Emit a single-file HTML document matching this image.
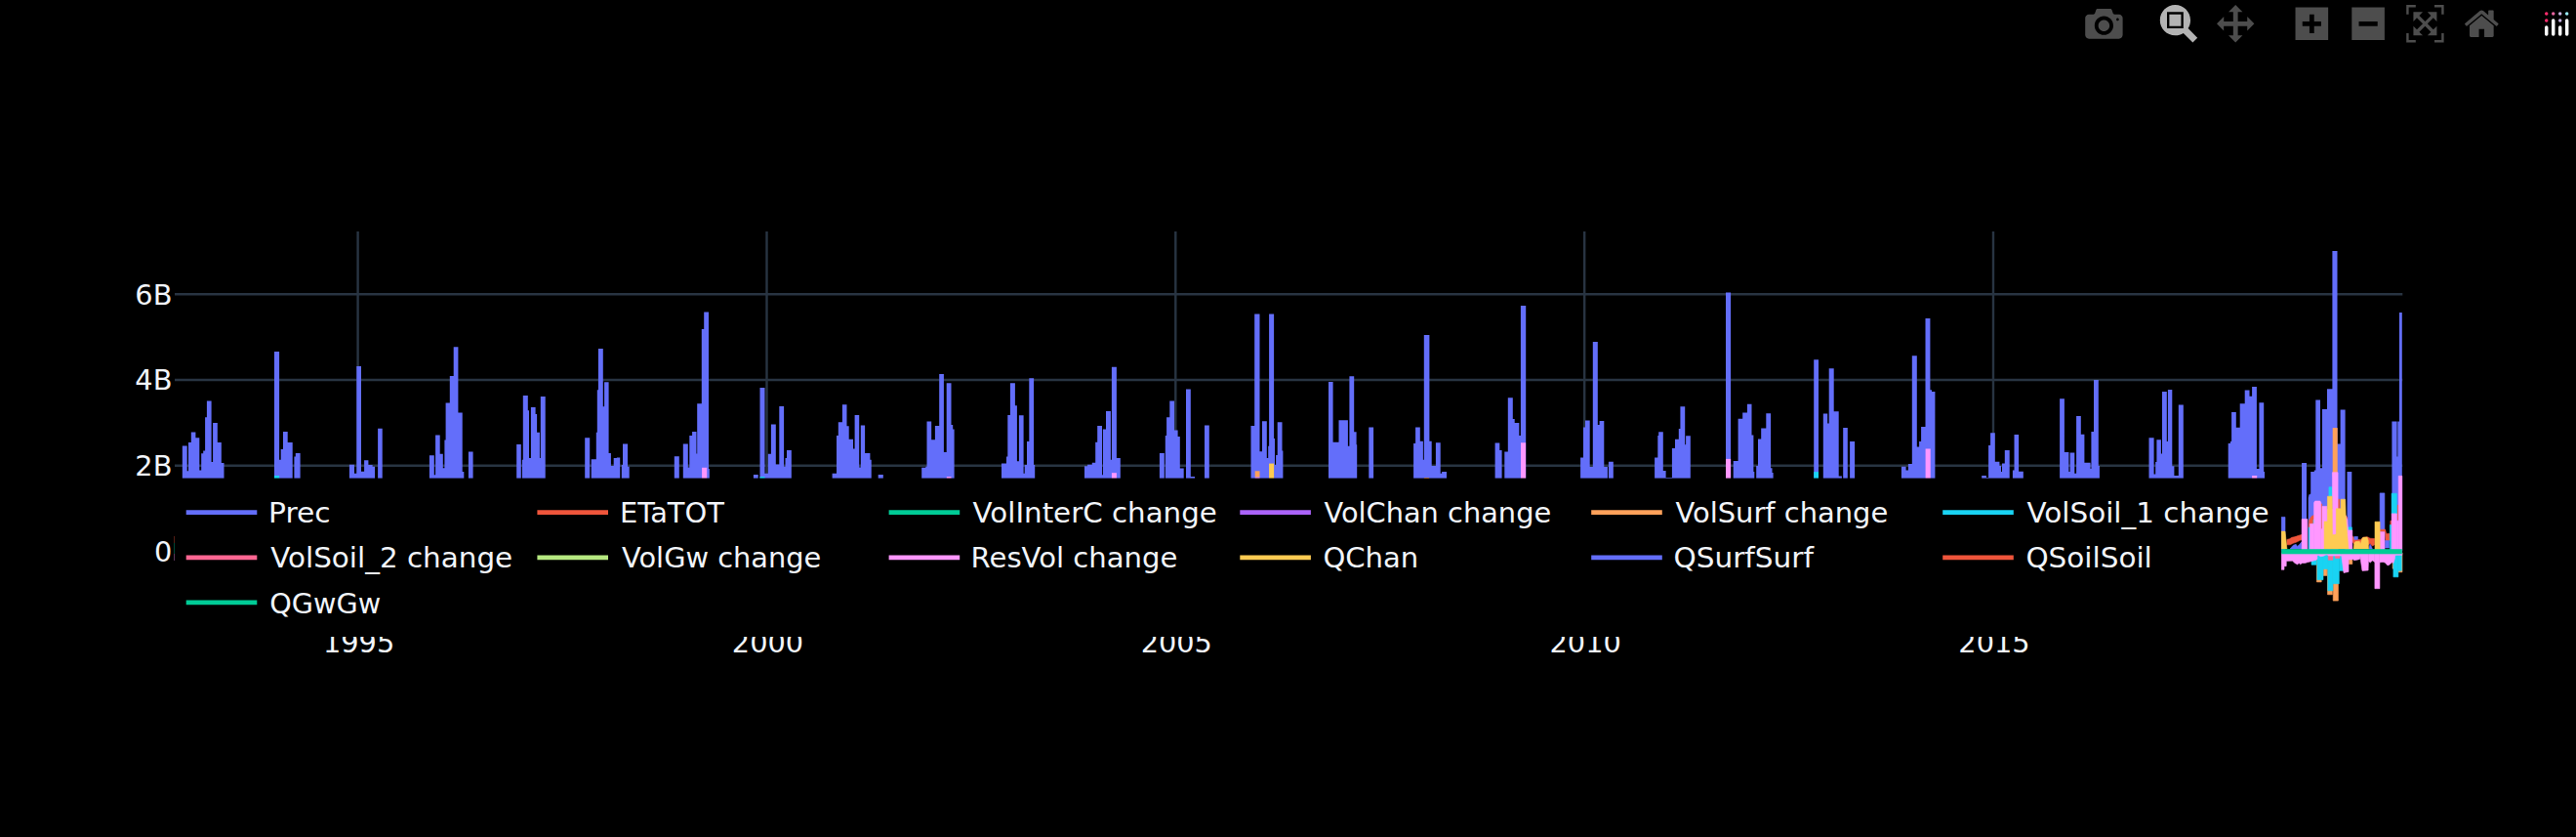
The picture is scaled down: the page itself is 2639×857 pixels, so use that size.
<!DOCTYPE html>
<html><head><meta charset="utf-8"><title>plot</title>
<style>
html,body{margin:0;padding:0;background:#000;}
body{width:2639px;height:857px;overflow:hidden;}
svg{display:block;position:absolute;left:0;top:0;}
text{font-family:"DejaVu Sans", "Liberation Sans", sans-serif;font-size:28.8px;fill:#f2f5fa;}
</style></head><body>
<svg width="2639" height="857" viewBox="0 0 2639 857">
<rect width="2639" height="857" fill="#000"/>

<g stroke="#283442" stroke-width="2.4" fill="none">
<line x1="366.6" y1="237" x2="366.6" y2="652"/>
<line x1="785.5" y1="237" x2="785.5" y2="652"/>
<line x1="1204.3" y1="237" x2="1204.3" y2="652"/>
<line x1="1623.2" y1="237" x2="1623.2" y2="652"/>
<line x1="2042.0" y1="237" x2="2042.0" y2="652"/>
<line x1="179" y1="476.8" x2="2461.3" y2="476.8"/>
<line x1="179" y1="389.0" x2="2461.3" y2="389.0"/>
<line x1="179" y1="301.2" x2="2461.3" y2="301.2"/>
</g>
<g>
<path fill="#636efa" d="M186.8 491.0 L186.8 456.4 L191.7 456.4 L191.7 482.3 L193.0 482.3 L193.0 453.1 L195.8 453.1 L195.8 442.4 L200.4 442.4 L200.4 448.2 L204.3 448.2 L204.3 481.6 L206.2 481.6 L206.2 464.2 L208.2 464.2 L208.2 461.4 L210.1 461.4 L210.1 427.2 L211.9 427.2 L211.9 410.6 L216.6 410.6 L216.6 473.0 L218.1 473.0 L218.1 433.1 L222.8 433.1 L222.8 453.1 L226.8 453.1 L226.8 474.1 L229.5 474.1 L229.5 491.0Z M281.0 491.0 L281.0 359.9 L286.1 359.9 L286.1 470.7 L287.7 470.7 L287.7 460.1 L290.0 460.1 L290.0 442.0 L294.7 442.0 L294.7 453.1 L299.7 453.1 L299.7 491.0Z M301.4 491.0 L301.4 467.6 L302.8 467.6 L302.8 464.0 L307.6 464.0 L307.6 491.0Z M357.9 491.0 L357.9 475.7 L363.0 475.7 L363.0 484.7 L365.3 484.7 L365.3 374.9 L370.0 374.9 L370.0 482.8 L373.1 482.8 L373.1 471.2 L377.4 471.2 L377.4 476.1 L381.6 476.1 L381.6 477.7 L384.0 477.7 L384.0 491.0Z M387.1 491.0 L387.1 438.7 L391.7 438.7 L391.7 491.0Z M439.9 491.0 L439.9 466.3 L444.8 466.3 L444.8 486.2 L446.1 486.2 L446.1 445.5 L450.7 445.5 L450.7 464.8 L453.8 464.8 L453.8 479.2 L455.4 479.2 L455.4 450.5 L456.6 450.5 L456.6 412.5 L457.0 412.5 L457.0 412.5 L460.8 412.5 L460.8 385.0 L464.7 385.0 L464.7 355.2 L469.4 355.2 L469.4 422.6 L473.7 422.6 L473.7 483.1 L475.3 483.1 L475.3 491.0Z M479.9 491.0 L479.9 462.5 L484.6 462.5 L484.6 491.0Z M529.2 491.0 L529.2 454.9 L533.8 454.9 L533.8 491.0Z M534.9 491.0 L534.9 470.7 L535.8 470.7 L535.8 405.0 L540.8 405.0 L540.8 420.2 L542.0 420.2 L542.0 469.1 L543.9 469.1 L543.9 417.1 L548.6 417.1 L548.6 424.1 L549.8 424.1 L549.8 424.1 L550.1 424.1 L550.1 442.7 L552.9 442.7 L552.9 469.1 L553.8 469.1 L553.8 405.9 L558.7 405.9 L558.7 491.0Z M599.2 491.0 L599.2 448.2 L604.2 448.2 L604.2 491.0Z M605.7 491.0 L605.7 470.2 L610.8 470.2 L610.8 442.7 L611.8 442.7 L611.8 399.3 L612.9 399.3 L612.9 357.1 L617.8 357.1 L617.8 416.3 L619.1 416.3 L619.1 391.2 L623.6 391.2 L623.6 464.0 L625.9 464.0 L625.9 476.9 L628.7 476.9 L628.7 469.1 L631.8 469.1 L631.8 468.4 L635.2 468.4 L635.2 491.0Z M636.8 491.0 L636.8 476.1 L638.0 476.1 L638.0 454.4 L643.0 454.4 L643.0 477.7 L644.7 477.7 L644.7 491.0Z M690.8 491.0 L690.8 467.3 L695.8 467.3 L695.8 491.0Z M699.8 491.0 L699.8 454.4 L704.8 454.4 L704.8 478.5 L706.3 478.5 L706.3 445.9 L709.1 445.9 L709.1 442.0 L713.5 442.0 L713.5 464.5 L714.2 464.5 L714.2 413.2 L718.8 413.2 L718.8 336.9 L721.2 336.9 L721.2 319.5 L726.0 319.5 L726.0 480.0 L726.8 480.0 L726.8 491.0Z M771.9 491.0 L771.9 485.9 L776.7 485.9 L776.7 491.0Z M778.5 491.0 L778.5 396.9 L783.5 396.9 L783.5 484.7 L786.8 484.7 L786.8 464.8 L789.9 464.8 L789.9 434.5 L794.8 434.5 L794.8 475.4 L798.3 475.4 L798.3 416.0 L803.1 416.0 L803.1 477.7 L804.5 477.7 L804.5 469.1 L806.0 469.1 L806.0 460.9 L810.8 460.9 L810.8 491.0Z M852.6 491.0 L852.6 484.7 L857.0 484.7 L857.0 445.9 L858.8 445.9 L858.8 432.3 L862.9 432.3 L862.9 414.3 L867.5 414.3 L867.5 436.2 L869.7 436.2 L869.7 449.7 L874.0 449.7 L874.0 459.5 L875.6 459.5 L875.6 424.9 L880.2 424.9 L880.2 478.5 L881.8 478.5 L881.8 435.6 L886.1 435.6 L886.1 464.0 L891.4 464.0 L891.4 470.7 L892.7 470.7 L892.7 491.0Z M899.7 491.0 L899.7 485.9 L904.8 485.9 L904.8 491.0Z M944.2 491.0 L944.2 478.8 L948.3 478.8 L948.3 477.7 L949.5 477.7 L949.5 431.4 L954.2 431.4 L954.2 450.2 L957.9 450.2 L957.9 436.1 L962.2 436.1 L962.2 383.0 L966.9 383.0 L966.9 462.9 L969.7 462.9 L969.7 392.3 L974.5 392.3 L974.5 435.1 L976.2 435.1 L976.2 439.6 L977.6 439.6 L977.6 491.0Z M1026.0 491.0 L1026.0 474.6 L1031.0 474.6 L1031.0 467.6 L1032.3 467.6 L1032.3 424.9 L1034.9 424.9 L1034.9 392.3 L1039.9 392.3 L1039.9 415.3 L1041.9 415.3 L1041.9 472.2 L1043.9 472.2 L1043.9 425.2 L1048.6 425.2 L1048.6 484.7 L1049.7 484.7 L1049.7 476.1 L1052.0 476.1 L1052.0 452.1 L1054.3 452.1 L1054.3 387.2 L1059.1 387.2 L1059.1 476.1 L1060.2 476.1 L1060.2 491.0Z M1111.0 491.0 L1111.0 477.2 L1114.1 477.2 L1114.1 475.7 L1118.8 475.7 L1118.8 473.8 L1122.2 473.8 L1122.2 452.8 L1124.2 452.8 L1124.2 435.9 L1129.0 435.9 L1129.0 486.2 L1129.9 486.2 L1129.9 439.6 L1133.0 439.6 L1133.0 421.0 L1137.9 421.0 L1137.9 470.7 L1138.9 470.7 L1138.9 375.7 L1143.9 375.7 L1143.9 469.1 L1147.8 469.1 L1147.8 491.0Z M1187.9 491.0 L1187.9 464.0 L1192.8 464.0 L1192.8 491.0Z M1193.8 491.0 L1193.8 445.9 L1195.1 445.9 L1195.1 427.2 L1198.3 427.2 L1198.3 410.4 L1203.1 410.4 L1203.1 440.4 L1206.6 440.4 L1206.6 447.1 L1208.8 447.1 L1208.8 479.5 L1212.7 479.5 L1212.7 491.0Z M1215.0 491.0 L1215.0 398.5 L1219.8 398.5 L1219.8 488.1 L1224.0 488.1 L1224.0 491.0Z M1234.0 491.0 L1234.0 435.4 L1238.8 435.4 L1238.8 491.0Z M1281.5 491.0 L1281.5 436.1 L1285.2 436.1 L1285.2 321.4 L1290.5 321.4 L1290.5 462.2 L1293.0 462.2 L1293.0 431.3 L1297.8 431.3 L1297.8 469.1 L1299.2 469.1 L1299.2 456.7 L1300.1 456.7 L1300.1 321.4 L1305.1 321.4 L1305.1 449.0 L1306.0 449.0 L1306.0 476.1 L1307.1 476.1 L1307.1 466.0 L1308.7 466.0 L1308.7 432.2 L1313.5 432.2 L1313.5 461.4 L1314.4 461.4 L1314.4 491.0Z M1361.0 491.0 L1361.0 391.0 L1365.6 391.0 L1365.6 452.8 L1371.5 452.8 L1371.5 430.3 L1379.0 430.3 L1379.0 430.3 L1379.3 430.3 L1379.3 430.3 L1380.9 430.3 L1380.9 456.7 L1382.4 456.7 L1382.4 385.3 L1387.2 385.3 L1387.2 442.3 L1389.6 442.3 L1389.6 455.2 L1390.2 455.2 L1390.2 491.0Z M1402.3 491.0 L1402.3 437.6 L1407.1 437.6 L1407.1 491.0Z M1448.1 491.0 L1448.1 453.9 L1450.1 453.9 L1450.1 437.5 L1454.8 437.5 L1454.8 451.8 L1457.9 451.8 L1457.9 470.7 L1458.8 470.7 L1458.8 343.1 L1464.4 343.1 L1464.4 451.8 L1466.7 451.8 L1466.7 476.9 L1470.9 476.9 L1470.9 453.3 L1475.7 453.3 L1475.7 484.7 L1477.1 484.7 L1477.1 483.1 L1482.0 483.1 L1482.0 491.0Z M1531.6 491.0 L1531.6 453.6 L1536.3 453.6 L1536.3 460.9 L1538.6 460.9 L1538.6 491.0Z M1541.3 491.0 L1541.3 462.6 L1544.8 462.6 L1544.8 407.2 L1549.8 407.2 L1549.8 429.1 L1551.7 429.1 L1551.7 433.1 L1556.3 433.1 L1556.3 445.9 L1557.9 445.9 L1557.9 313.0 L1563.2 313.0 L1563.2 491.0Z M1619.1 491.0 L1619.1 468.4 L1622.0 468.4 L1622.0 437.6 L1624.0 437.6 L1624.0 430.5 L1628.7 430.5 L1628.7 478.1 L1631.8 478.1 L1631.8 349.9 L1636.8 349.9 L1636.8 435.0 L1638.6 435.0 L1638.6 431.1 L1643.3 431.1 L1643.3 478.1 L1646.9 478.1 L1646.9 491.0Z M1647.9 491.0 L1647.9 472.7 L1652.8 472.7 L1652.8 491.0Z M1695.1 491.0 L1695.1 468.4 L1698.3 468.4 L1698.3 445.9 L1699.2 445.9 L1699.2 442.3 L1703.8 442.3 L1703.8 481.9 L1706.6 481.9 L1706.6 489.0 L1712.9 489.0 L1712.9 459.0 L1716.0 459.0 L1716.0 449.7 L1719.8 449.7 L1719.8 438.9 L1721.4 438.9 L1721.4 416.3 L1726.2 416.3 L1726.2 455.2 L1727.1 455.2 L1727.1 446.2 L1731.8 446.2 L1731.8 491.0Z M1768.0 491.0 L1768.0 299.6 L1773.1 299.6 L1773.1 491.0Z M1775.7 491.0 L1775.7 471.9 L1779.0 471.9 L1779.0 471.9 L1779.3 471.9 L1779.3 471.9 L1780.6 471.9 L1780.6 428.8 L1785.2 428.8 L1785.2 422.6 L1789.9 422.6 L1789.9 413.7 L1794.5 413.7 L1794.5 445.4 L1796.4 445.4 L1796.4 483.1 L1797.3 483.1 L1797.3 491.0Z M1799.2 491.0 L1799.2 476.9 L1801.0 476.9 L1801.0 449.4 L1804.2 449.4 L1804.2 438.4 L1809.3 438.4 L1809.3 423.3 L1814.1 423.3 L1814.1 479.2 L1815.5 479.2 L1815.5 483.9 L1816.6 483.9 L1816.6 491.0Z M1858.2 491.0 L1858.2 368.2 L1863.0 368.2 L1863.0 491.0Z M1867.8 491.0 L1867.8 423.6 L1872.2 423.6 L1872.2 433.4 L1873.7 433.4 L1873.7 377.2 L1878.7 377.2 L1878.7 421.2 L1883.7 421.2 L1883.7 487.5 L1886.9 487.5 L1886.9 491.0Z M1888.2 491.0 L1888.2 437.9 L1892.8 437.9 L1892.8 491.0Z M1895.1 491.0 L1895.1 452.1 L1900.1 452.1 L1900.1 491.0Z M1947.9 491.0 L1947.9 477.7 L1952.6 477.7 L1952.6 481.6 L1954.9 481.6 L1954.9 475.0 L1958.8 475.0 L1958.8 364.2 L1963.8 364.2 L1963.8 457.5 L1966.1 457.5 L1966.1 452.1 L1968.1 452.1 L1968.1 437.0 L1972.5 437.0 L1972.5 326.0 L1977.4 326.0 L1977.4 399.3 L1979.0 399.3 L1979.0 401.1 L1982.4 401.1 L1982.4 491.0Z M2030.2 491.0 L2030.2 487.0 L2034.9 487.0 L2034.9 489.0 L2037.1 489.0 L2037.1 455.9 L2039.1 455.9 L2039.1 443.2 L2043.8 443.2 L2043.8 472.7 L2048.4 472.7 L2048.4 476.9 L2050.0 476.9 L2050.0 483.1 L2051.0 483.1 L2051.0 474.6 L2053.8 474.6 L2053.8 460.9 L2058.7 460.9 L2058.7 491.0Z M2061.9 491.0 L2061.9 481.6 L2063.5 481.6 L2063.5 445.1 L2068.1 445.1 L2068.1 482.8 L2072.8 482.8 L2072.8 491.0Z M2110.1 491.0 L2110.1 408.3 L2114.9 408.3 L2114.9 462.9 L2119.4 462.9 L2119.4 483.1 L2120.6 483.1 L2120.6 463.4 L2125.3 463.4 L2125.3 484.7 L2127.1 484.7 L2127.1 426.0 L2131.8 426.0 L2131.8 444.8 L2135.4 444.8 L2135.4 473.8 L2141.6 473.8 L2141.6 480.0 L2142.4 480.0 L2142.4 442.0 L2145.0 442.0 L2145.0 388.9 L2149.8 388.9 L2149.8 476.9 L2150.9 476.9 L2150.9 491.0Z M2201.5 491.0 L2201.5 448.2 L2206.6 448.2 L2206.6 485.4 L2208.2 485.4 L2208.2 473.0 L2209.4 473.0 L2209.4 450.2 L2213.9 450.2 L2213.9 464.5 L2215.0 464.5 L2215.0 401.1 L2219.8 401.1 L2219.8 452.1 L2220.9 452.1 L2220.9 399.0 L2225.3 399.0 L2225.3 477.2 L2227.4 477.2 L2227.4 487.0 L2231.8 487.0 L2231.8 414.5 L2236.8 414.5 L2236.8 491.0Z M2282.7 491.0 L2282.7 453.9 L2284.9 453.9 L2284.9 452.1 L2286.1 452.1 L2286.1 421.9 L2290.8 421.9 L2290.8 437.8 L2294.7 437.8 L2294.7 413.2 L2299.7 413.2 L2299.7 399.4 L2304.5 399.4 L2304.5 405.8 L2307.1 405.8 L2307.1 395.9 L2311.9 395.9 L2311.9 480.0 L2314.4 480.0 L2314.4 412.3 L2319.2 412.3 L2319.2 483.1 L2320.0 483.1 L2320.0 491.0Z M2358.0 564.6 L2358.0 474.1 L2363.0 474.1 L2363.0 564.6Z M2367.2 564.6 L2367.2 483.1 L2370.8 483.1 L2370.8 481.6 L2372.3 481.6 L2372.3 409.4 L2377.0 409.4 L2377.0 479.2 L2379.0 479.2 L2379.0 419.1 L2384.0 419.1 L2384.0 398.3 L2389.4 398.3 L2389.4 257.1 L2394.5 257.1 L2394.5 454.4 L2397.6 454.4 L2397.6 419.5 L2402.6 419.5 L2402.6 564.6Z M2404.5 564.6 L2404.5 483.1 L2409.3 483.1 L2409.3 564.6Z M2450.4 564.6 L2450.4 431.4 L2455.6 431.4 L2455.6 467.4 L2456.3 467.4 L2456.3 431.4 L2458.0 431.4 L2458.0 320.1 L2460.8 320.1 L2460.8 564.6Z"/>
<rect x="281.0" y="487.0" width="5.1" height="3.9" fill="#19d3f3"/>
<rect x="719.1" y="478.8" width="5.1" height="12.1" fill="#FF97FF"/>
<rect x="778.5" y="488.1" width="5.0" height="2.8" fill="#19d3f3"/>
<rect x="969.8" y="488.1" width="4.7" height="2.8" fill="#FF97FF"/>
<rect x="1138.9" y="484.2" width="5.0" height="6.7" fill="#FF97FF"/>
<rect x="1285.7" y="482.3" width="4.8" height="6.2" fill="#FFA15A"/>
<rect x="1285.7" y="488.6" width="4.8" height="2.3" fill="#FF97FF"/>
<rect x="1300.1" y="474.6" width="5.0" height="16.3" fill="#FECB52"/>
<rect x="1459.0" y="489.0" width="5.1" height="1.9" fill="#FFA15A"/>
<rect x="1558.0" y="453.3" width="5.1" height="37.6" fill="#FF97FF"/>
<rect x="1768.0" y="469.9" width="5.1" height="21.0" fill="#FF97FF"/>
<rect x="1858.2" y="483.1" width="4.8" height="7.8" fill="#19d3f3"/>
<rect x="1972.6" y="459.5" width="5.1" height="31.4" fill="#FF97FF"/>
<rect x="2307.1" y="487.0" width="5.1" height="3.9" fill="#FF97FF"/>
<polygon points="2337.2,529.4 2341.0,529.4 2341.0,564.4 2337.2,564.4" fill="#636efa" stroke="#636efa" stroke-width="0.6"/>
<polygon points="2438.1,504.9 2442.9,504.9 2442.9,564.4 2438.1,564.4" fill="#636efa" stroke="#636efa" stroke-width="0.6"/>
<polygon points="2365.0,509.4 2365.8,506.4 2368.0,505.8 2368.0,564.4 2365.0,564.4" fill="#636efa" stroke="#636efa" stroke-width="0.6"/>
<polygon points="2342.9,552.4 2345.5,551.8 2347.9,550.3 2350.3,549.8 2352.7,549.1 2355.1,548.2 2358.1,547.4 2358.1,552.4 2355.7,553.6 2352.7,555.1 2349.1,556.3 2346.1,557.8 2342.9,557.8" fill="#EF553B" stroke="#EF553B" stroke-width="0.6"/>
<polygon points="2365.0,540.5 2365.5,532.7 2368.0,528.8 2371.2,527.1 2371.2,535.1 2368.0,536.3 2367.0,540.5" fill="#EF553B" stroke="#EF553B" stroke-width="0.6"/>
<polygon points="2377.8,516.0 2378.7,516.0 2378.7,541.7 2377.8,541.7" fill="#EF553B" stroke="#EF553B" stroke-width="0.6"/>
<polygon points="2395.1,511.2 2396.9,511.2 2396.9,520.8 2395.1,520.8" fill="#EF553B" stroke="#EF553B" stroke-width="0.6"/>
<polygon points="2402.6,527.3 2404.7,529.7 2404.7,538.7 2403.5,536.9 2402.6,532.1" fill="#EF553B" stroke="#EF553B" stroke-width="0.6"/>
<polygon points="2409.4,548.2 2410.6,549.4 2413.6,552.2 2418.4,552.7 2420.8,550.3 2425.6,549.8 2428.0,551.2 2432.7,551.5 2432.7,557.8 2430.3,559.0 2428.0,556.6 2426.2,557.8 2419.0,557.8 2413.6,557.2 2411.2,556.6 2409.4,553.6" fill="#EF553B" stroke="#EF553B" stroke-width="0.6"/>
<polygon points="2438.1,542.3 2443.5,542.0 2444.7,546.5 2448.3,546.2 2448.3,553.6 2444.1,554.2 2443.5,544.7 2438.1,544.1" fill="#EF553B" stroke="#EF553B" stroke-width="0.6"/>
<polygon points="2456.0,517.2 2456.9,517.2 2456.9,532.7 2456.0,532.7" fill="#EF553B" stroke="#EF553B" stroke-width="0.6"/>
<polygon points="2448.9,533.3 2449.8,533.3 2449.8,537.9 2448.9,537.9" fill="#EF553B" stroke="#EF553B" stroke-width="0.6"/>
<polygon points="2346.1,562.0 2349.1,558.4 2352.1,557.2 2353.3,559.4 2355.1,558.2 2357.7,555.1 2358.1,562.0" fill="#636efa" stroke="#636efa" stroke-width="0.6"/>
<polygon points="2411.8,549.4 2415.4,549.4 2415.4,552.4 2411.8,552.4" fill="#636efa" stroke="#636efa" stroke-width="0.6"/>
<polygon points="2426.8,562.0 2428.0,557.2 2429.4,559.6 2430.3,562.0" fill="#636efa" stroke="#636efa" stroke-width="0.6"/>
<polygon points="2443.5,553.6 2447.7,553.6 2447.7,561.0 2443.5,561.0" fill="#636efa" stroke="#636efa" stroke-width="0.6"/>
<rect x="2389.7" y="438.1" width="5.0" height="50" fill="#FFA15A"/>
<polygon points="2365.2,539.9 2367.0,539.9 2367.0,564.4 2365.2,564.4" fill="#19d3f3" stroke="#19d3f3" stroke-width="0.6"/>
<polygon points="2370.0,532.1 2371.2,532.1 2371.2,536.9 2370.0,536.9" fill="#19d3f3" stroke="#19d3f3" stroke-width="0.6"/>
<polygon points="2385.9,498.7 2389.4,498.7 2389.4,509.4 2385.9,509.4" fill="#19d3f3" stroke="#19d3f3" stroke-width="0.6"/>
<polygon points="2405.0,539.9 2409.4,539.9 2409.4,543.5 2405.0,543.5" fill="#19d3f3" stroke="#19d3f3" stroke-width="0.6"/>
<polygon points="2448.3,537.5 2450.1,537.5 2450.1,564.4 2448.3,564.4" fill="#19d3f3" stroke="#19d3f3" stroke-width="0.6"/>
<polygon points="2450.1,505.2 2455.4,505.2 2455.4,526.1 2450.1,526.1" fill="#19d3f3" stroke="#19d3f3" stroke-width="0.6"/>
<polygon points="2358.1,531.5 2363.8,531.5 2363.8,564.4 2358.1,564.4" fill="#FF97FF" stroke="#FF97FF" stroke-width="0.6"/>
<polygon points="2366.4,536.3 2370.6,536.3 2370.6,564.4 2366.4,564.4" fill="#FF97FF" stroke="#FF97FF" stroke-width="0.6"/>
<polygon points="2370.6,514.8 2371.6,513.0 2376.8,513.0 2377.8,514.8 2377.8,564.4 2370.6,564.4" fill="#FF97FF" stroke="#FF97FF" stroke-width="0.6"/>
<polygon points="2377.8,541.7 2379.0,541.7 2379.0,564.4 2377.8,564.4" fill="#FF97FF" stroke="#FF97FF" stroke-width="0.6"/>
<polygon points="2379.0,518.4 2383.8,518.4 2383.8,564.4 2379.0,564.4" fill="#FF97FF" stroke="#FF97FF" stroke-width="0.6"/>
<polygon points="2383.8,521.4 2389.7,521.4 2389.7,564.4 2383.8,564.4" fill="#FF97FF" stroke="#FF97FF" stroke-width="0.6"/>
<polygon points="2389.4,483.7 2395.1,483.7 2395.1,564.4 2389.4,564.4" fill="#FF97FF" stroke="#FF97FF" stroke-width="0.6"/>
<polygon points="2402.6,527.1 2404.7,532.1 2405.5,542.9 2409.8,542.9 2409.8,564.4 2402.6,564.4" fill="#FF97FF" stroke="#FF97FF" stroke-width="0.6"/>
<polygon points="2438.1,544.7 2442.9,544.7 2442.9,564.4 2438.1,564.4" fill="#FF97FF" stroke="#FF97FF" stroke-width="0.6"/>
<polygon points="2450.1,525.9 2455.4,525.9 2455.4,564.4 2450.1,564.4" fill="#FF97FF" stroke="#FF97FF" stroke-width="0.6"/>
<polygon points="2455.4,533.3 2457.2,533.3 2457.2,564.4 2455.4,564.4" fill="#FF97FF" stroke="#FF97FF" stroke-width="0.6"/>
<polygon points="2457.2,487.3 2460.8,487.3 2460.8,564.4 2457.2,564.4" fill="#FF97FF" stroke="#FF97FF" stroke-width="0.6"/>
<polygon points="2337.2,544.1 2341.0,544.1 2342.9,562.0 2337.2,562.0" fill="#FECB52" stroke="#FECB52" stroke-width="0.6"/>
<polygon points="2381.1,533.9 2384.4,533.9 2384.4,508.2 2389.1,508.2 2389.4,547.6 2392.1,547.6 2393.3,546.5 2393.3,520.8 2398.1,520.8 2398.1,511.2 2402.6,511.2 2403.1,527.3 2405.9,562.0 2381.1,562.0" fill="#FECB52" stroke="#FECB52" stroke-width="0.6"/>
<polygon points="2411.2,562.0 2411.8,556.0 2413.0,554.6 2417.2,554.2 2418.4,557.2 2419.4,552.4 2420.8,550.3 2425.0,550.0 2426.2,553.6 2426.5,562.0" fill="#FECB52" stroke="#FECB52" stroke-width="0.6"/>
<polygon points="2433.0,534.2 2438.1,534.2 2438.1,564.4 2433.0,564.4" fill="#FECB52" stroke="#FECB52" stroke-width="0.6"/>
<polygon points="2373.4,565.8 2378.2,565.8 2378.2,595.9 2373.4,595.9" fill="#FFA15A" stroke="#FFA15A" stroke-width="0.6"/>
<polygon points="2380.2,565.8 2383.9,565.8 2383.9,589.4 2380.2,589.4" fill="#FFA15A" stroke="#FFA15A" stroke-width="0.6"/>
<polygon points="2384.5,565.8 2389.4,565.8 2389.4,608.8 2384.5,608.8" fill="#FFA15A" stroke="#FFA15A" stroke-width="0.6"/>
<polygon points="2390.2,565.8 2395.4,565.8 2395.4,615.1 2390.2,615.1" fill="#FFA15A" stroke="#FFA15A" stroke-width="0.6"/>
<polygon points="2406.3,565.8 2409.8,565.8 2409.8,577.6 2406.3,577.6" fill="#FFA15A" stroke="#FFA15A" stroke-width="0.6"/>
<polygon points="2451.1,565.8 2452.2,565.8 2452.2,582.2 2451.1,582.2" fill="#FFA15A" stroke="#FFA15A" stroke-width="0.6"/>
<polygon points="2456.9,565.8 2461.0,565.8 2461.0,585.8 2456.9,585.8" fill="#FFA15A" stroke="#FFA15A" stroke-width="0.6"/>
<polygon points="2368.0,565.8 2373.2,565.8 2373.2,578.3 2368.0,578.3" fill="#19d3f3" stroke="#19d3f3" stroke-width="0.6"/>
<polygon points="2373.9,565.8 2380.0,565.8 2380.0,593.7 2373.9,593.7" fill="#19d3f3" stroke="#19d3f3" stroke-width="0.6"/>
<polygon points="2380.0,565.8 2384.9,565.8 2384.9,582.6 2380.0,582.6" fill="#19d3f3" stroke="#19d3f3" stroke-width="0.6"/>
<polygon points="2384.8,565.8 2389.9,565.8 2389.9,604.8 2384.8,604.8" fill="#19d3f3" stroke="#19d3f3" stroke-width="0.6"/>
<polygon points="2389.9,565.8 2396.3,565.8 2396.3,597.7 2389.9,597.7" fill="#19d3f3" stroke="#19d3f3" stroke-width="0.6"/>
<polygon points="2396.3,565.8 2401.0,565.8 2401.0,584.4 2396.3,584.4" fill="#19d3f3" stroke="#19d3f3" stroke-width="0.6"/>
<polygon points="2451.9,565.8 2456.9,565.8 2456.9,590.8 2451.9,590.8" fill="#19d3f3" stroke="#19d3f3" stroke-width="0.6"/>
<polygon points="2456.9,565.8 2460.3,565.8 2460.3,584.4 2456.9,584.4" fill="#19d3f3" stroke="#19d3f3" stroke-width="0.6"/>
<polygon points="2337.2,565.8 2337.2,583.3 2340.0,583.3 2340.0,579.7 2342.2,579.7 2342.3,574.4 2348.6,574.2 2350.8,576.5 2353.7,577.9 2355.1,576.5 2356.5,577.8 2358.7,576.5 2361.5,576.5 2363.7,575.8 2368.0,574.7 2373.0,573.3 2373.9,572.2 2373.9,565.8" fill="#FF97FF" stroke="#FF97FF" stroke-width="0.6"/>
<polygon points="2373.9,565.8 2385.2,565.8 2385.2,568.3 2383.0,567.9 2380.2,569.3 2377.3,569.7 2375.2,568.6 2373.9,568.3" fill="#FF97FF" stroke="#FF97FF" stroke-width="0.6"/>
<polygon points="2385.2,568.3 2389.9,568.3 2389.9,573.3 2385.2,573.3" fill="#FF6692" stroke="#FF6692" stroke-width="0.6"/>
<polygon points="2392.4,568.3 2397.0,568.3 2397.0,571.5 2392.4,571.5" fill="#FF6692" stroke="#FF6692" stroke-width="0.6"/>
<polygon points="2385.2,565.8 2398.8,565.8 2398.8,569.0 2385.2,569.0" fill="#FF97FF" stroke="#FF97FF" stroke-width="0.6"/>
<polygon points="2398.8,565.8 2398.8,569.3 2401.0,586.5 2406.0,585.5 2406.0,565.8" fill="#FF97FF" stroke="#FF97FF" stroke-width="0.6"/>
<polygon points="2406.0,565.8 2406.0,572.9 2409.9,572.9 2410.3,572.2 2411.7,573.8 2416.0,572.9 2417.8,572.2 2418.2,565.8" fill="#FF97FF" stroke="#FF97FF" stroke-width="0.6"/>
<polygon points="2417.8,565.8 2418.2,572.2 2420.0,584.4 2426.1,584.0 2426.4,574.4 2426.4,565.8" fill="#FF97FF" stroke="#FF97FF" stroke-width="0.6"/>
<polygon points="2426.4,565.8 2426.4,574.4 2428.2,576.1 2430.4,574.0 2432.9,575.4 2432.9,565.8" fill="#FF97FF" stroke="#FF97FF" stroke-width="0.6"/>
<polygon points="2432.9,565.8 2437.9,565.8 2437.9,602.7 2432.9,602.7" fill="#FF97FF" stroke="#FF97FF" stroke-width="0.6"/>
<polygon points="2437.9,565.8 2437.9,575.8 2441.1,575.4 2443.3,576.1 2446.1,579.0 2448.3,577.9 2450.4,575.8 2451.9,576.5 2453.3,572.2 2454.0,565.8" fill="#FF97FF" stroke="#FF97FF" stroke-width="0.6"/>
<polygon points="2454.0,565.8 2460.8,565.8 2460.8,568.3 2454.0,568.3" fill="#FF97FF" stroke="#FF97FF" stroke-width="0.6"/>
<rect x="2337.2" y="562.2" width="123.6" height="5.1" fill="#00cc96"/>
</g>
<text x="176.4" y="311.5" text-anchor="end">6B</text>
<text x="176.4" y="399.3" text-anchor="end">4B</text>
<text x="176.4" y="487.1" text-anchor="end">2B</text>
<text x="176.4" y="574.9" text-anchor="end">0</text>
<text x="367.6" y="668.1" text-anchor="middle">1995</text>
<text x="786.5" y="668.1" text-anchor="middle">2000</text>
<text x="1205.3" y="668.1" text-anchor="middle">2005</text>
<text x="1624.2" y="668.1" text-anchor="middle">2010</text>
<text x="2043.0" y="668.1" text-anchor="middle">2015</text>
<rect x="178.4" y="489.6" width="2158.4" height="162.4" fill="#000"/>
<line x1="190.7" y1="524.7" x2="263.3" y2="524.7" stroke="#636efa" stroke-width="4.8"/>
<text x="275.1" y="535.3" textLength="63.6" lengthAdjust="spacingAndGlyphs">Prec</text>
<line x1="550.4" y1="524.7" x2="623.0" y2="524.7" stroke="#EF553B" stroke-width="4.8"/>
<text x="635.0" y="535.3" textLength="106.9" lengthAdjust="spacingAndGlyphs">ETaTOT</text>
<line x1="910.6" y1="524.7" x2="983.2" y2="524.7" stroke="#00cc96" stroke-width="4.8"/>
<text x="996.6" y="535.3" textLength="250.2" lengthAdjust="spacingAndGlyphs">VolInterC change</text>
<line x1="1270.3" y1="524.7" x2="1342.9" y2="524.7" stroke="#ab63fa" stroke-width="4.8"/>
<text x="1356.4" y="535.3" textLength="232.8" lengthAdjust="spacingAndGlyphs">VolChan change</text>
<line x1="1630.2" y1="524.7" x2="1702.8" y2="524.7" stroke="#FFA15A" stroke-width="4.8"/>
<text x="1716.4" y="535.3" textLength="217.9" lengthAdjust="spacingAndGlyphs">VolSurf change</text>
<line x1="1990.2" y1="524.7" x2="2062.8" y2="524.7" stroke="#19d3f3" stroke-width="4.8"/>
<text x="2076.4" y="535.3" textLength="248.3" lengthAdjust="spacingAndGlyphs">VolSoil_1 change</text>
<line x1="190.7" y1="570.8" x2="263.3" y2="570.8" stroke="#FF6692" stroke-width="4.8"/>
<text x="277.2" y="581.4" textLength="248.0" lengthAdjust="spacingAndGlyphs">VolSoil_2 change</text>
<line x1="550.4" y1="570.8" x2="623.0" y2="570.8" stroke="#B6E880" stroke-width="4.8"/>
<text x="637.0" y="581.4" textLength="204.3" lengthAdjust="spacingAndGlyphs">VolGw change</text>
<line x1="910.6" y1="570.8" x2="983.2" y2="570.8" stroke="#FF97FF" stroke-width="4.8"/>
<text x="994.6" y="581.4" textLength="211.8" lengthAdjust="spacingAndGlyphs">ResVol change</text>
<line x1="1270.3" y1="570.8" x2="1342.9" y2="570.8" stroke="#FECB52" stroke-width="4.8"/>
<text x="1355.4" y="581.4" textLength="97.9" lengthAdjust="spacingAndGlyphs">QChan</text>
<line x1="1630.2" y1="570.8" x2="1702.8" y2="570.8" stroke="#636efa" stroke-width="4.8"/>
<text x="1714.4" y="581.4" textLength="143.4" lengthAdjust="spacingAndGlyphs">QSurfSurf</text>
<line x1="1990.2" y1="570.8" x2="2062.8" y2="570.8" stroke="#EF553B" stroke-width="4.8"/>
<text x="2075.4" y="581.4" textLength="129.4" lengthAdjust="spacingAndGlyphs">QSoilSoil</text>
<line x1="190.7" y1="616.9" x2="263.3" y2="616.9" stroke="#00cc96" stroke-width="4.8"/>
<text x="276.2" y="627.5" textLength="113.9" lengthAdjust="spacingAndGlyphs">QGwGw</text>
<g opacity="0.35"><rect x="178.0" y="549" width="1" height="7" fill="#EF553B"/><rect x="178.0" y="556" width="1" height="11" fill="#00cc96"/><rect x="178.0" y="567" width="1" height="7" fill="#FF97FF"/></g>
<g transform="translate(2136.20,5.1) scale(0.0384)"><path fill="#4d4d4d" transform="matrix(1 0 0 -1 0 850)" d="m500 450c-83 0-150-67-150-150 0-83 67-150 150-150 83 0 150 67 150 150 0 83-67 150-150 150z m400 150h-120c-16 0-34 13-39 29l-31 93c-6 15-23 28-40 28h-340c-16 0-34-13-39-28l-31-94c-6-15-23-28-40-28h-120c-55 0-100-45-100-100v-450c0-55 45-100 100-100h800c55 0 100 45 100 100v450c0 55-45 100-100 100z m-400-550c-138 0-250 112-250 250 0 138 112 250 250 250 138 0 250-112 250-250 0-138-112-250-250-250z m365 380c-19 0-35 16-35 35 0 19 16 35 35 35 19 0 35-16 35-35 0-19-16-35-35-35z"/></g>
<g transform="translate(2212.80,5.1) scale(0.0384)"><path fill="#b3b3b3" transform="matrix(1 0 0 -1 0 850)" d="m1000-25l-250 251c40 63 63 138 63 218 0 224-182 406-407 406-224 0-406-182-406-406s183-406 407-406c80 0 155 22 218 62l250-250 125 125z m-812 250l0 438 437 0 0-438-437 0z m62 375l313 0 0-312-313 0 0 312z"/></g>
<g transform="translate(2271.00,5.1) scale(0.0384)"><path fill="#4d4d4d" transform="matrix(1 0 0 -1 0 850)" d="m1000 350l-187 188 0-125-250 0 0 250 125 0-188 187-187-187 125 0 0-250-250 0 0 125-188-188 186-187 0 125 252 0 0-250-125 0 187-188 188 188-125 0 0 250 250 0 0-126 187 188z"/></g>
<g transform="translate(2351.50,5.1) scale(0.0384)"><path fill="#4d4d4d" transform="matrix(1 0 0 -1 0 850)" d="m1 787l0-875 875 0 0 875-875 0z m687-500l-187 0 0-187-125 0 0 187-188 0 0 125 188 0 0 187 125 0 0-187 187 0 0-125z"/></g>
<g transform="translate(2409.30,5.1) scale(0.0384)"><path fill="#4d4d4d" transform="matrix(1 0 0 -1 0 850)" d="m0 788l0-876 875 0 0 876-875 0z m688-500l-500 0 0 125 500 0 0-125z"/></g>
<g transform="translate(2465.20,5.1) scale(0.0384)"><path fill="#4d4d4d" transform="matrix(1 0 0 -1 0 850)" d="m250 850l-187 0-63 0 0-62 0-188 63 0 0 188 187 0 0 62z m688 0l-188 0 0-62 188 0 0-188 62 0 0 188 0 62-62 0z m-875-938l0 188-63 0 0-188 0-62 63 0 187 0 0 62-187 0z m875 188l0-188-188 0 0-62 188 0 62 0 0 62 0 188-62 0z m-125 188l-1 0-93-94-156 156 156 156 92-93 2 0 0 250-250 0 0-2 93-92-156-156-156 156 94 92 0 2-250 0 0-250 0 0 93 93 157-156-157-156-93 94 0 0 0-250 250 0 0 0-94 93 156 157 156-157-93-93 0 0 250 0 0 250z"/></g>
<g transform="translate(2524.47,5.1) scale(0.0384)"><path fill="#4d4d4d" transform="matrix(1 0 0 -1 0 850)" d="m786 296v-267q0-15-11-26t-25-10h-214v214h-143v-214h-214q-15 0-25 10t-11 26v267q0 1 0 2t0 2l321 264 321-264q1-1 1-4z m124 39l-34-41q-5-5-12-6h-2q-7 0-12 3l-386 322-386-322q-7-4-13-4-7 2-12 7l-35 41q-4 5-3 13t6 12l401 334q18 15 42 15t43-15l136-114v109q0 8 5 13t13 5h107q8 0 13-5t5-13v-227l122-102q5-5 6-12t-4-13z"/></g>
<g transform="translate(2600.0,5.3) scale(0.29091)">
<circle cx="30" cy="30" r="6" fill="#ff2c6d"/>
<circle cx="54" cy="30" r="6" fill="#e8659f"/>
<circle cx="78" cy="30" r="6" fill="#c9b6e4"/>
<circle cx="102" cy="30" r="6" fill="#99f0fb"/>
<circle cx="30" cy="54" r="6" fill="#ff2c6d"/>
<circle cx="78" cy="54" r="6" fill="#c9b6e4"/>
<path d="M30,72a6,6,0,0,0-6,6v24a6,6,0,0,0,12,0V78A6,6,0,0,0,30,72Z" fill="#fff"/>
<path d="M78,72a6,6,0,0,0-6,6v24a6,6,0,0,0,12,0V78A6,6,0,0,0,78,72Z" fill="#fff"/>
<path d="M54,48a6,6,0,0,0-6,6v48a6,6,0,0,0,12,0V54A6,6,0,0,0,54,48Z" fill="#fff"/>
<path d="M102,48a6,6,0,0,0-6,6v48a6,6,0,0,0,12,0V54A6,6,0,0,0,102,48Z" fill="#fff"/>
</g>
</svg></body></html>
